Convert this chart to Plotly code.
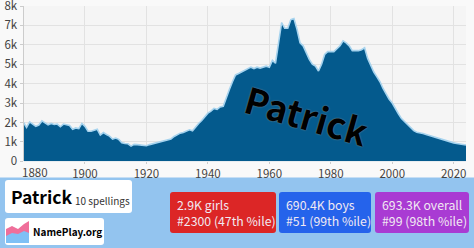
import plotly.graph_objects as go

start_year = 1880
counts = [
 2000,1750,2030,1920,1800,1870,2080,1980,1880,1950,
 1900,1920,1780,1920,1870,1850,1650,1720,1680,1950,
 1800,1550,1550,1620,1650,1350,1480,1380,1300,1150,
 1200,1130,950,920,900,780,870,860,830,800,
 800,860,900,930,960,1000,1050,1090,1150,1280,
 1370,1450,1480,1560,1620,1570,1770,1950,2100,2300,
 2480,2580,2720,2680,2800,2830,3300,3700,4100,4450,
 4520,4600,4700,4780,4850,4780,4850,4800,4850,4900,
 4850,5200,5050,6000,7150,6850,6850,7300,7350,6800,
 6100,5950,5600,5250,5000,4900,4650,5000,5500,5650,
 5650,5650,5800,5950,6200,6100,5950,5700,5700,5700,
 5750,5850,5300,4950,4600,4350,4100,3750,3450,3200,
 3000,2700,2450,2200,2050,1850,1700,1580,1500,1480,
 1430,1380,1330,1280,1220,1170,1110,1060,1020,980,
 950,920,890,850,840]
years = [start_year + i for i in range(len(counts))]
x_ticks = [1900, 1920, 1940, 1960, 1980, 2000, 2020]
y_ticks = [0, 1000, 2000, 3000, 4000, 5000, 6000, 7000, 8000]
y_labels = ["0", "1k", "2k", "3k", "4k", "5k", "6k", "7k", "8k"]
first_tick_label = "1880"

name = "Patrick"
spellings = "10 spellings"
site = "NamePlay.org"
cards = [
    ("2.9K girls", "#2300 (47th %ile)", "#dc2626", 170, 276),
    ("690.4K boys", "#51 (99th %ile)", "#2563eb", 279, 371),
    ("693.3K overall", "#99 (98th %ile)", "#a93bd3", 375, 469),
]

W, H = 474, 248
FONT = "Noto Sans CJK KR"
px = lambda v: v / W
py = lambda v: 1 - v / H


def rrect(x0, y0, x1, y1, r):
    a, b, c, d = px(x0), px(x1), py(y0), py(y1)
    rx, ry = r / W, r / H
    return (f"M{a+rx},{c} L{b-rx},{c} Q{b},{c} {b},{c-ry} L{b},{d+ry} Q{b},{d} {b-rx},{d} "
            f"L{a+rx},{d} Q{a},{d} {a},{d+ry} L{a},{c-ry} Q{a},{c} {a+rx},{c} Z")


def poly(points):
    return "M" + " L".join(f"{px(x)},{py(y)}" for x, y in points) + " Z"


def panel(path, color):
    return dict(type="path", xref="paper", yref="paper", path=path,
                fillcolor=color, line=dict(width=0), layer="above")


shapes = [
    dict(type="rect", xref="paper", yref="paper", x0=0, x1=1, y0=0, y1=py(177.5),
         fillcolor="#93c4ef", line=dict(width=0), layer="below"),
    panel(rrect(5, 180, 132, 213, 3), "#ffffff"),
    panel(rrect(5, 218, 104, 245, 3), "#ffffff"),
    panel(poly([(6, 229), (12, 226), (18, 229), (24, 224), (29, 221), (29, 243), (6, 243)]), "#ef6f9a"),
    panel(poly([(6, 236), (12, 233), (18, 234), (24, 231), (29, 233), (29, 243), (6, 243)]), "#7fc0f5"),
]
for _, _, color, x0, x1 in cards:
    shapes.append(panel(rrect(x0, 192, x1, 233, 3), color))


def note(x, y, text, size, color, anchor="left", weight=None, **kw):
    return dict(xref="paper", yref="paper", x=px(x), y=py(y), text=text, showarrow=False,
                xanchor=anchor, yanchor="middle",
                font=dict(family=FONT, size=size, color=color,
                          **({"weight": weight} if weight else {})), **kw)


annotations = [
    dict(xref="x", yref="paper", x=start_year, y=py(171.5), xshift=11.5, text=first_tick_label,
         showarrow=False, xanchor="center", yanchor="middle",
         font=dict(family=FONT, size=11.5, color="#444444")),
    dict(xref="paper", yref="paper", x=px(307), y=py(114), text=name, showarrow=False,
         textangle=16, xanchor="center", yanchor="middle",
         font=dict(family=FONT, size=36, color="#000000", weight=600,
                   shadow="0 0 1.5px #999999")),
    note(9, 196.5, name, 17.5, "#000000", weight=700),
    note(73, 200, spellings, 10, "#333333"),
    note(31, 231.5, site, 10, "#000000", weight=700),
]
for top, bottom, color, x0, x1 in cards:
    annotations.append(note(x0 + 5, 213, f"{top}<br>{bottom}", 12.3, "#f1e9f2", align="left"))

fig = go.Figure(go.Scatter(
    x=years, y=counts, mode="lines", fill="tozeroy", fillcolor="#045a8d",
    line=dict(color="#a6d3ee", width=1.6), hoverinfo="skip"))

fig.update_layout(
    width=W, height=H, autosize=False, margin=dict(l=0, r=0, t=0, b=0),
    paper_bgcolor="#f9f9f9", plot_bgcolor="#f5f5f5", showlegend=False,
    shapes=shapes, annotations=annotations,
    xaxis=dict(domain=[px(23.5), px(466)], range=[1880, 2024], tickmode="array", automargin=False,
               tickvals=x_ticks, showgrid=True, gridcolor="#e2e2e2", gridwidth=1,
               ticks="outside", ticklen=2, tickcolor="#cccccc", zeroline=False,
               tickfont=dict(family=FONT, size=11.5, color="#444444"), showline=False),
    yaxis=dict(domain=[py(161.3), py(6)], range=[0, 8000], anchor="x", tickmode="array", automargin=False,
               tickvals=y_ticks, ticktext=y_labels, showgrid=True, gridcolor="#e2e2e2",
               gridwidth=1, ticks="outside", ticklen=3, tickcolor="#cccccc", zeroline=False,
               showline=True, linecolor="#cccccc", linewidth=1, ticklabeloverflow="allow",
               tickfont=dict(family=FONT, size=11.5, color="#444444")),
)
fig.write_html("out.html", config=dict(displayModeBar=False),
               post_script="document.body.style.margin='0';document.documentElement.style.overflow='hidden';")
